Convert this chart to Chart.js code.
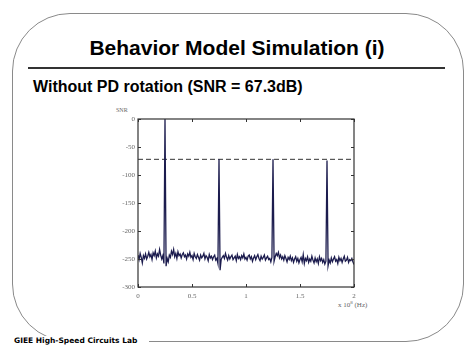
<!DOCTYPE html>
<html>
<head>
<meta charset="utf-8">
<script src="https://cdn.jsdelivr.net/npm/chart.js@4.4.0/dist/chart.umd.min.js"></script>
<style>
    body { margin: 0; width: 474px; height: 355px; background: #fff; position: relative; overflow: hidden; }
    .frame { position: absolute; left: 12px; top: 13px; width: 450px; height: 327px; border: 1px solid #8a8a8a; border-radius: 58px; }
    .title { position: absolute; left: 0; width: 474px; top: 36px; text-align: center; font: bold 21px "Liberation Sans", Arial, sans-serif; color: #000; }
    .rule { position: absolute; left: 28px; top: 67px; width: 417px; height: 2px; background: #333; }
    .subtitle { position: absolute; left: 33px; top: 78px; font: bold 16px "Liberation Sans", Arial, sans-serif; color: #000; }
    .footer { position: absolute; left: 9px; top: 336px; padding: 0 12px 0 5px; background: #fff; font: bold 7.5px "DejaVu Sans", Verdana, sans-serif; color: #000; }
    .small { position: absolute; font: 6px "Liberation Serif", serif; color: #666; }
    canvas { position: absolute; left: 0; top: 0; }
</style>
</head>
<body>
<div class="frame"></div>
<div class="title">Behavior Model Simulation (i)</div>
<div class="rule"></div>
<div class="subtitle">Without PD rotation (SNR = 67.3dB)</div>
<div class="footer">GIEE High-Speed Circuits Lab</div>
<div class="small" style="left:116px; top:107px;">SNR</div>
<div class="small" style="left:338px; top:300px; font-size:7px;">x 10<sup style="font-size:5px;">8</sup> (Hz)</div>
<canvas id="snrChart" width="474" height="355"></canvas>
<script>
// frequency step of the floor samples (x 10^8 Hz)
const freqStep = 0.01;

// noise floor, dB (one value per step from 0 to 2)
const floorDb = [
    -243, -251, -240, -247, -257, -244, -249, -241, -250, -245,
    -238, -246, -242, -251, -239, -244, -236, -248, -241, -245,
    -233, -243, -250, -244, -258, -245, -263, -249, -255, -243,
    -247, -236, -242, -233, -246, -240, -249, -237, -244, -241,
    -248, -242, -239, -246, -243, -250, -241, -245, -238, -247,
    -244, -251, -240, -246, -249, -242, -247, -252, -243, -248,
    -245, -240, -250, -244, -247, -253, -242, -248, -245, -251,
    -246, -243, -252, -249, -258, -250, -270, -251, -247, -244,
    -249, -240, -247, -252, -244, -250, -246, -243, -251, -248,
    -245, -253, -242, -249, -246, -251, -244, -248, -241, -250,
    -247, -252, -245, -243, -250, -246, -254, -248, -244, -251,
    -246, -242, -249, -253, -245, -250, -247, -243, -252, -248,
    -245, -251, -249, -255, -247, -250, -254, -246, -240, -244,
    -238, -248, -243, -250, -246, -252, -244, -249, -255, -247,
    -251, -245, -253, -248, -256, -250, -246, -254, -249, -257,
    -251, -247, -255, -242, -258, -249, -253, -246, -256, -250,
    -254, -245, -252, -257, -248, -255, -250, -258, -246, -253,
    -249, -256, -251, -259, -254, -250, -262, -252, -257, -248,
    -255, -250, -246, -254, -251, -258, -247, -253, -249, -256,
    -250, -245, -254, -252, -247, -256, -251, -253, -249, -255,
    -260
];

// tones
const toneFreq = [0.25, 0.75, 1.25, 1.75];
const toneDb = [0, -72, -72, -74];

// dashed reference level
const refLevel = -72;

const xTicks = [0, 0.5, 1, 1.5, 2];
const yTicks = [0, -50, -100, -150, -200, -250, -300];

const spectrum = floorDb.map((v, i) => ({ x: +(i * freqStep).toFixed(2), y: v }));
toneFreq.forEach((f, k) => {
    const i = Math.round(f / freqStep);
    spectrum[i] = { x: f, y: toneDb[k] };
});

// matlab style box with inward ticks
const boxPlugin = {
    id: 'matlabBox',
    afterDraw(chart) {
        const ctx = chart.ctx;
        const a = chart.chartArea;
        const xs = chart.scales.x;
        const ys = chart.scales.y;
        ctx.save();
        ctx.strokeStyle = '#333';
        ctx.lineWidth = 1;
        ctx.beginPath();
        xTicks.forEach(v => {
            const px = Math.round(xs.getPixelForValue(v)) + 0.5;
            ctx.moveTo(px, a.bottom); ctx.lineTo(px, a.bottom - 3);
            ctx.moveTo(px, a.top); ctx.lineTo(px, a.top + 3);
        });
        yTicks.forEach(v => {
            const py = Math.round(ys.getPixelForValue(v)) + 0.5;
            ctx.moveTo(a.left, py); ctx.lineTo(a.left + 3, py);
            ctx.moveTo(a.right, py); ctx.lineTo(a.right - 3, py);
        });
        ctx.stroke();
        ctx.lineWidth = 1.2;
        ctx.strokeRect(a.left, a.top, a.right - a.left, a.bottom - a.top);
        ctx.restore();
    }
};

const tickFont = { family: '"Liberation Serif", serif', size: 7 };

new Chart(document.getElementById('snrChart').getContext('2d'), {
    type: 'line',
    data: {
        datasets: [
            {
                label: 'SNR',
                data: spectrum,
                borderColor: '#1c1c4e',
                borderWidth: 1.3,
                pointRadius: 0,
                tension: 0,
                fill: false
            },
            {
                label: 'ref',
                data: [{ x: 0, y: refLevel }, { x: 2, y: refLevel }],
                borderColor: '#333',
                borderWidth: 1,
                borderDash: [5, 3],
                pointRadius: 0,
                fill: false
            }
        ]
    },
    options: {
        responsive: false,
        animation: false,
        layout: { padding: { left: 112, top: 119, right: 120, bottom: 50 } },
        plugins: { legend: { display: false }, tooltip: { enabled: false } },
        scales: {
            x: {
                type: 'linear',
                min: 0,
                max: 2,
                afterBuildTicks: s => { s.ticks = xTicks.map(v => ({ value: v })); },
                afterFit: s => { s.height = 18; },
                grid: { display: false, drawTicks: false },
                border: { display: false },
                ticks: { font: tickFont, color: '#666', padding: 5, maxRotation: 0, callback: v => String(v) }
            },
            y: {
                min: -300,
                max: 0,
                afterBuildTicks: s => { s.ticks = yTicks.map(v => ({ value: v })); },
                afterFit: s => { s.width = 26; },
                grid: { display: false, drawTicks: false },
                border: { display: false },
                ticks: { font: tickFont, color: '#666', padding: 3, callback: v => String(v) }
            }
        }
    },
    plugins: [boxPlugin]
});
</script>
</body>
</html>
